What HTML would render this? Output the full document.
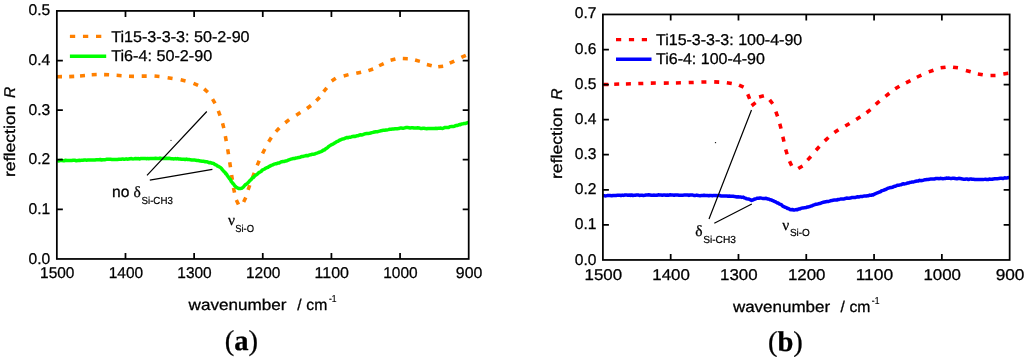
<!DOCTYPE html>
<html lang="en"><head><meta charset="utf-8"><title>Reflection spectra</title>
<style>
html,body{margin:0;padding:0;background:#fff;}
body{width:1024px;height:357px;overflow:hidden;}
svg{display:block;}
text{font-family:"Liberation Sans", Arial, Helvetica, sans-serif;fill:#000;text-rendering:geometricPrecision;stroke:#000;stroke-width:0.28px;}
.t{font-size:15.6px;}
.s{font-size:10.2px;stroke-width:0.2px;}
.g{font-family:"Liberation Serif", "Times New Roman", Times, serif;font-size:15.5px;}
.cap{font-family:"Liberation Serif", "Times New Roman", Times, serif;font-weight:bold;font-size:28.6px;}
.ax{stroke:#000;stroke-width:1.75;fill:none;}
.an{stroke:#000;stroke-width:1.2;fill:none;}
</style></head><body>
<svg width="1024" height="357" viewBox="0 0 1024 357">
<rect width="1024" height="357" fill="#fff"/>
<defs>
<clipPath id="ca"><rect x="56.85" y="10.9" width="411.85" height="248.05"/></clipPath>
<clipPath id="cb"><rect x="602.9" y="14.45" width="406.75" height="245.5"/></clipPath>
</defs>
<g clip-path="url(#ca)">
<path d="M57 76.77L62 76.63M69.2 76.61L74.2 76.39M80.01 75.9L84.99 75.5M91.7 74.8L96.7 74.6M104.1 74.62L109.1 74.78M116.61 75.34L121.59 75.66M129 76.24L134 76.36M141.7 76.1L146.7 76.1M154.51 76.1L159.49 76.5M167.63 77.81L172.57 78.59M180.67 79.82L185.53 80.98M193.52 83.28L198.08 85.32M204.18 88.89L207.82 92.31M212.54 99.04L215.06 103.36M218.3 110.87L220.1 115.53M222.57 123.28L223.83 128.12M225.34 136.14L226.26 141.06M227.69 149.23L228.51 154.17M229.72 162.23L230.48 167.17M231.62 174.93L232.38 179.87M233.47 187.76L234.53 192.64M236.34 200.03L238.46 204.57M243.63 202.06L245.77 197.54M248.06 189.96L249.74 185.24M252.51 177.64L254.29 172.96M257.21 165.4L259.19 160.8M262.58 153.53L264.82 149.07M268.64 141.7L271.36 137.5M275.89 131.63L279.31 127.97M285.22 122.72L289.18 119.68M296.21 115.26L300.39 112.54M307.01 108.51L310.99 105.49M316.29 100.82L319.71 97.18M323.63 91.74L326.77 87.86M331.65 81.03L335.75 78.17M343.69 75.96L348.51 74.64M356.26 73.34L361.14 72.26M368.45 70.64L373.15 68.96M379.12 65.74L383.68 63.66M390.58 60.31L395.42 59.09M402.8 58.6L407.8 58.8M415.09 60.05L419.91 61.35M426.87 64.59L431.73 65.81M438.22 66.83L443.18 66.17M449.71 63.21L454.29 61.19M461.34 57.47L465.86 55.33" fill="none" stroke="#ff8000" stroke-width="3.55"/>
<path d="M56.9 160.7L57.6 160.6L58.6 160.9L59.4 160.4L60.5 160.4L61.6 160.3L62.8 160.7L64.2 160.7L65.6 160.3L67.0 160.4L68.6 160.4L70.0 160.5L71.7 160.5L73.1 160.3L74.8 160.3L76.3 160.7L77.9 160.6L79.3 160.2L80.6 160.4L81.7 160.2L82.9 160.2L84.2 160.0L85.6 160.1L86.7 160.2L88.1 159.9L89.4 159.9L90.7 160.0L92.1 160.0L93.6 160.1L94.9 160.0L96.3 159.8L97.6 159.7L98.9 159.7L100.2 159.5L101.5 160.0L102.9 159.8L104.1 159.8L105.2 159.7L106.4 159.3L107.6 159.3L108.8 159.3L110.5 159.3L111.9 159.5L113.2 159.5L114.8 159.6L116.1 159.4L117.5 159.5L118.8 159.3L120.0 159.3L121.2 159.2L122.6 158.9L123.9 159.2L125.0 159.2L126.2 158.8L127.5 159.2L128.7 158.9L129.9 158.7L131.5 158.6L132.7 158.9L134.1 158.8L135.7 158.6L137.0 158.8L138.5 158.6L139.8 159.0L141.1 158.4L142.7 158.4L144.0 158.6L145.2 158.4L146.6 158.7L147.6 158.4L148.8 158.7L149.9 158.6L151.6 158.6L153.0 158.6L154.2 158.5L155.6 158.3L156.7 158.6L158.0 158.6L159.0 158.6L160.1 158.1L161.5 158.5L162.6 158.4L163.9 158.2L165.0 158.6L166.5 158.2L167.6 158.6L168.9 158.3L170.1 158.5L171.4 158.7L172.6 158.7L174.0 158.9L175.3 158.6L176.5 158.9L177.6 158.6L178.9 159.0L180.2 159.0L181.5 159.3L182.7 159.3L183.9 159.2L185.3 159.5L186.4 159.1L187.7 159.5L189.1 159.4L190.4 159.8L191.7 160.0L193.1 160.1L194.6 160.1L195.7 160.2L197.1 160.4L198.2 160.4L199.3 160.8L200.5 161.1L202.1 161.3L203.3 161.3L204.5 161.5L205.5 161.8L206.8 161.8L207.9 162.1L209.2 162.8L210.5 162.6L211.8 163.2L213.0 163.3L214.0 163.7L215.0 164.6L216.3 164.9L217.3 165.9L218.4 166.4L219.5 167.0L220.4 167.5L221.3 168.3L222.2 169.6L223.1 170.5L223.9 171.5L225.0 172.3L225.6 173.6L226.6 174.1L227.1 175.2L227.9 176.4L228.7 177.5L229.3 178.4L230.1 179.2L230.8 180.4L231.4 181.6L232.3 182.7L233.0 183.6L233.8 184.3L234.4 185.3L235.0 186.0L236.3 187.3L237.5 187.8L238.3 188.4L239.5 188.5L240.4 188.6L241.4 188.4L242.4 187.8L243.0 187.4L243.7 186.6L244.6 185.5L245.8 184.4L246.6 183.9L247.4 183.3L248.3 182.4L249.2 181.4L250.1 180.3L251.2 179.5L252.2 178.1L253.1 177.7L254.2 176.5L255.2 175.5L256.2 175.0L257.2 174.2L258.2 173.3L259.2 172.3L260.4 171.8L261.2 171.4L262.2 170.1L263.5 169.5L264.6 169.0L265.6 168.3L267.0 167.6L268.0 167.3L269.2 166.4L270.3 166.0L271.4 165.3L272.7 164.9L274.0 164.2L275.3 163.8L276.6 163.7L277.9 163.1L279.2 163.0L280.6 162.2L281.9 161.7L283.1 161.5L284.4 161.5L285.7 160.9L287.0 160.7L288.2 160.1L289.6 159.6L290.9 159.2L292.2 158.8L293.6 158.6L294.9 158.4L296.2 157.9L297.5 157.8L298.9 157.4L300.1 157.3L301.4 156.6L302.7 156.6L304.0 156.2L305.3 155.8L306.6 155.6L307.8 155.8L309.3 154.9L310.6 154.8L311.8 154.3L313.3 154.3L314.6 154.1L315.8 153.4L317.0 153.1L318.5 152.5L319.6 152.1L321.0 151.6L322.1 151.1L323.3 150.0L324.4 150.0L325.5 148.9L326.5 148.4L327.6 147.6L328.7 146.5L329.6 145.9L330.8 145.1L331.9 144.5L332.8 144.2L334.0 143.4L335.1 142.8L336.1 142.1L337.2 141.4L338.2 141.2L339.3 140.3L340.4 140.0L341.6 139.4L342.8 138.9L344.0 138.8L345.3 138.1L347.0 137.5L348.1 137.8L349.1 137.3L350.2 137.3L351.5 136.9L352.7 136.4L354.0 136.2L355.3 136.4L356.7 135.8L358.0 135.8L359.3 135.1L360.4 134.8L361.5 135.1L362.9 134.6L364.1 134.1L365.4 133.7L366.7 133.5L368.1 133.6L369.5 133.3L370.6 133.0L371.9 132.6L373.4 132.3L374.5 132.0L375.8 131.7L377.2 131.8L378.5 131.4L379.6 131.1L381.0 130.7L382.2 130.6L383.4 130.2L384.7 130.3L385.9 130.1L387.2 129.9L388.4 129.6L389.8 129.2L391.1 129.2L392.4 129.0L393.5 129.1L395.0 128.8L396.1 128.7L397.4 128.7L398.7 128.6L400.1 128.1L401.3 128.0L402.6 128.2L403.8 128.2L405.0 127.8L406.4 127.6L407.6 127.6L408.9 127.7L410.2 127.9L411.4 127.8L412.7 127.7L413.9 127.9L415.3 127.9L416.4 127.9L417.8 127.8L419.0 127.9L420.4 128.4L421.7 128.4L423.0 128.2L424.1 128.3L425.4 128.6L426.8 128.7L428.0 128.4L429.3 128.6L430.5 128.5L431.9 128.4L433.3 128.5L434.5 128.6L435.9 128.3L437.1 128.4L438.3 128.2L439.7 128.3L440.9 128.1L442.0 128.4L443.3 128.2L444.7 127.6L446.0 127.4L447.3 127.6L448.6 127.4L449.8 126.7L450.9 126.6L452.2 126.4L453.2 126.4L454.5 126.2L455.8 125.6L456.9 125.6L458.2 125.1L459.4 124.5L460.6 124.7L461.7 123.9L463.0 123.8L464.2 123.6L465.7 123.4L466.9 122.9L467.8 122.6L468.6 122.7" fill="none" stroke="#00ff00" stroke-width="3.5" stroke-linejoin="round"/>
</g>
<path class="ax" d="M125.49 258.95v-6M125.49 10.9v6M194.13 258.95v-6M194.13 10.9v6M262.77 258.95v-6M262.77 10.9v6M331.42 258.95v-6M331.42 10.9v6M400.06 258.95v-6M400.06 10.9v6M56.85 209.34h6M468.7 209.34h-6M56.85 159.73h6M468.7 159.73h-6M56.85 110.12h6M468.7 110.12h-6M56.85 60.51h6M468.7 60.51h-6"/>
<rect class="ax" x="56.85" y="10.9" width="411.85" height="248.05"/>
<text class="t" x="57.25" y="278.4" text-anchor="middle" textLength="34.4" lengthAdjust="spacingAndGlyphs">1500</text>
<text class="t" x="125.89" y="278.4" text-anchor="middle" textLength="34.4" lengthAdjust="spacingAndGlyphs">1400</text>
<text class="t" x="194.53" y="278.4" text-anchor="middle" textLength="34.4" lengthAdjust="spacingAndGlyphs">1300</text>
<text class="t" x="263.17" y="278.4" text-anchor="middle" textLength="34.4" lengthAdjust="spacingAndGlyphs">1200</text>
<text class="t" x="331.82" y="278.4" text-anchor="middle" textLength="34.4" lengthAdjust="spacingAndGlyphs">1100</text>
<text class="t" x="400.46" y="278.4" text-anchor="middle" textLength="34.4" lengthAdjust="spacingAndGlyphs">1000</text>
<text class="t" x="469.1" y="278.4" text-anchor="middle" textLength="26.46" lengthAdjust="spacingAndGlyphs">900</text>
<text class="t" x="50.3" y="263.65" text-anchor="end">0.0</text>
<text class="t" x="50.3" y="213.97" text-anchor="end">0.1</text>
<text class="t" x="50.3" y="164.29" text-anchor="end">0.2</text>
<text class="t" x="50.3" y="114.61" text-anchor="end">0.3</text>
<text class="t" x="50.3" y="64.93" text-anchor="end">0.4</text>
<text class="t" x="50.3" y="15.25" text-anchor="end">0.5</text>
<path d="M69.9 36.3H102" fill="none" stroke="#ff8000" stroke-width="3.3" stroke-dasharray="5.3 7.75"/>
<path d="M69.9 56.2H106.2" fill="none" stroke="#00ff00" stroke-width="3.4"/>
<text class="t" x="111.2" y="41.5" textLength="138.4" lengthAdjust="spacingAndGlyphs">Ti15-3-3-3: 50-2-90</text>
<text class="t" x="111.2" y="61.2" textLength="101" lengthAdjust="spacingAndGlyphs">Ti6-4: 50-2-90</text>
<path class="an" d="M147 175.4L206.8 111.5M149.8 180.2L212.4 169.4"/>
<rect x="170.3" y="139.9" width="1.4" height="0.9" fill="#444"/>
<text class="t" x="112.1" y="196.6">no</text>
<text class="g" x="133.6" y="196.8">δ</text>
<text class="s" x="141.5" y="203.6" textLength="31.3" lengthAdjust="spacingAndGlyphs">Si-CH3</text>
<text class="g" x="228" y="225.4">ν</text>
<text class="s" x="235.2" y="231.7" textLength="18.8" lengthAdjust="spacingAndGlyphs">Si-O</text>
<text class="t" x="188.6" y="309.8" textLength="97.8" lengthAdjust="spacingAndGlyphs">wavenumber</text>
<text class="t" x="297.3" y="309.8">/</text>
<text class="t" x="306.3" y="309.8" textLength="21" lengthAdjust="spacingAndGlyphs">cm</text>
<text class="s" x="328.9" y="301.6" textLength="7.6" lengthAdjust="spacingAndGlyphs">-1</text>
<text class="t" transform="translate(15 177) rotate(-90)"><tspan textLength="71.5" lengthAdjust="spacingAndGlyphs">reflection</tspan><tspan dx="7.5" font-style="italic">R</tspan></text>
<text class="cap" x="241.4" y="350.2" text-anchor="middle"><tspan font-weight="normal">(</tspan>a<tspan font-weight="normal">)</tspan></text>
<g clip-path="url(#cb)">
<path d="M603.4 84.59L608.4 84.41M614.2 84.17L619.2 84.03M625.9 83.96L630.9 83.84M638.3 83.58L643.3 83.42M650.8 83.14L655.8 83.06M663.8 83.12L668.8 83.08M675.9 82.96L680.9 82.84M688.7 82.59L693.7 82.41M701.4 82.05L706.4 81.95M714.2 81.88L719.2 82.12M726.83 82.79L731.77 83.61M739.03 85.04L743.57 87.16M747.76 94.28L749.64 98.92M751.63 105.74L755.57 102.66M759.09 97.05L763.91 95.75M769.66 99.83L772.74 103.77M775.84 111.65L777.56 116.35M779.76 123.78L781.04 128.62M782.83 136.77L783.97 141.63M785.69 149.4L787.11 154.2M789.54 161.13L791.66 165.67M798.23 168.55L802.57 166.05M807.51 160.14L810.89 156.46M816.02 150.25L819.38 146.55M824.76 140.9L828.44 137.5M834.35 132.53L838.45 129.67M845.25 125.98L849.55 123.42M856.19 119.45L860.41 116.75M866.54 112.75L870.46 109.65M875.71 104.44L879.49 101.16M885.43 96.33L889.37 93.27M895.18 88.83L899.42 86.17M905.98 82.85L910.42 80.55M916.83 77.25L921.37 75.15M928.75 71.95L933.45 70.25M940.63 67.86L945.57 67.14M953.03 67.15L957.97 67.85M965.89 70.43L970.71 71.77M977.84 73.96L982.76 74.84M990.5 75.57L995.5 75.43M1003.33 74.1L1008.27 73.3" fill="none" stroke="#ff0000" stroke-width="3.55"/>
<path d="M603.1 195.6L603.9 195.6L604.8 195.8L605.9 195.9L607.2 195.6L608.7 195.4L610.1 195.6L611.6 195.8L613.1 195.5L614.6 195.6L615.9 195.6L617.2 195.3L618.5 195.3L619.9 195.2L620.9 195.6L622.2 195.1L623.6 195.4L624.9 195.0L626.3 194.9L627.9 195.3L629.5 195.1L630.6 195.4L631.6 194.9L632.8 195.5L634.1 195.3L635.4 195.3L636.6 194.9L638.0 194.9L639.4 195.4L640.8 195.3L642.2 195.2L643.6 195.4L644.7 195.3L646.0 195.0L647.5 195.1L648.7 194.8L649.9 195.0L651.4 195.3L652.8 195.2L654.3 195.1L655.4 195.3L656.8 195.3L658.2 194.8L659.7 195.0L660.8 194.9L662.1 195.2L663.6 195.0L664.8 195.0L666.0 195.2L667.3 195.0L668.7 195.3L669.9 194.7L671.3 195.0L672.5 194.9L674.0 195.3L675.2 195.0L676.3 195.0L677.7 195.1L679.0 195.3L680.2 195.3L681.4 195.3L682.7 195.3L683.7 195.1L684.9 195.0L686.4 195.1L687.6 195.0L688.9 195.4L690.2 195.0L691.7 195.0L692.8 195.1L694.3 195.5L695.5 195.4L696.8 195.1L697.8 195.4L699.0 195.6L699.9 195.7L701.5 195.5L702.8 195.5L704.1 195.2L705.3 195.4L706.3 195.4L707.5 195.6L708.7 195.8L709.7 195.5L711.1 195.6L712.4 195.7L713.5 195.4L714.7 195.5L715.9 195.5L717.1 195.7L718.3 195.4L719.6 195.5L720.8 195.9L722.1 196.1L723.3 195.9L724.5 196.1L725.8 196.0L727.0 196.0L728.1 196.2L729.3 196.0L730.5 196.2L731.9 196.2L733.3 196.3L734.7 196.6L735.8 196.7L737.1 197.0L738.2 196.8L739.1 196.9L740.9 197.1L741.9 197.4L743.2 197.1L744.2 197.8L745.4 198.2L746.7 198.8L748.0 198.9L749.4 199.3L750.7 199.9L751.6 200.4L752.5 200.1L753.6 199.5L755.0 199.0L756.2 198.6L757.3 198.2L758.7 198.3L760.0 198.0L761.1 198.1L762.5 198.4L763.8 198.4L764.8 198.5L766.1 198.3L767.4 198.9L768.6 198.9L769.7 199.7L770.9 199.7L772.2 200.4L773.4 200.9L774.5 201.5L775.6 201.8L776.8 202.7L778.0 203.0L779.2 203.9L780.4 204.3L781.6 204.9L782.7 206.1L783.8 206.6L785.0 207.2L786.4 207.6L787.6 208.5L788.7 208.6L790.0 209.5L791.3 209.8L792.2 209.5L793.6 210.0L794.8 209.9L796.0 209.6L797.3 209.8L798.3 209.1L799.9 208.9L800.9 208.4L802.0 208.1L803.4 207.9L804.5 207.7L806.0 207.6L807.1 207.1L808.5 206.9L809.9 206.5L811.1 206.0L812.2 205.7L813.4 205.2L814.8 204.7L816.0 204.2L817.1 204.2L818.4 203.8L819.6 203.6L820.9 203.1L822.0 202.6L823.3 202.3L824.6 202.0L825.8 201.7L827.0 201.5L828.2 201.6L829.4 201.2L830.5 200.8L831.8 200.6L833.0 200.3L834.3 200.1L835.6 199.9L836.8 200.0L838.1 199.5L839.3 199.5L840.5 199.0L841.7 199.1L843.0 199.0L844.1 198.9L845.3 198.5L846.6 198.1L847.8 198.3L849.1 198.2L850.3 198.1L851.6 197.6L852.8 197.6L853.9 197.5L855.0 197.6L856.3 197.1L857.5 196.8L858.7 197.1L860.2 196.5L861.3 196.6L862.7 196.5L863.9 196.0L865.3 196.0L866.3 196.1L867.5 195.8L868.6 195.7L869.9 195.1L871.0 195.3L872.1 194.8L873.1 194.9L874.5 194.1L875.6 193.6L876.7 193.2L878.0 192.7L879.4 191.9L880.6 191.7L881.8 190.7L883.2 190.4L884.5 189.8L885.7 189.5L887.1 188.7L888.3 188.2L889.5 187.8L890.9 187.5L891.9 187.4L893.1 187.0L894.4 186.2L895.4 186.3L896.5 185.7L897.7 185.2L898.7 185.2L900.1 184.9L901.1 184.7L902.2 184.1L903.4 183.7L904.7 183.9L906.1 183.6L907.3 183.1L908.7 183.0L909.9 182.4L911.0 182.2L912.3 181.9L913.6 182.0L914.8 181.5L915.8 181.3L917.2 181.0L918.4 181.0L919.6 180.3L920.8 180.7L922.0 180.4L923.4 180.2L924.6 179.8L925.8 179.7L927.0 179.4L928.1 179.4L929.5 179.2L930.6 179.1L931.8 179.1L933.1 178.9L934.4 179.0L935.5 178.6L936.7 178.5L938.0 178.6L939.2 178.7L940.4 178.3L941.8 178.6L942.9 178.7L944.0 178.6L945.4 178.4L946.4 178.0L947.7 178.2L949.0 178.1L950.2 178.4L951.4 178.4L952.6 178.3L953.9 178.2L955.1 178.6L956.5 178.7L957.6 178.7L958.8 178.3L960.1 178.4L961.2 178.7L962.4 179.1L963.8 179.2L965.0 179.2L966.2 179.0L967.4 179.1L968.5 179.5L969.8 179.1L971.0 179.0L972.2 179.3L973.5 179.2L974.8 179.4L976.0 179.5L977.2 179.5L978.5 179.5L979.7 179.5L980.8 179.5L982.1 179.6L983.2 179.6L984.3 179.4L985.5 179.2L986.9 179.6L988.2 179.5L989.3 179.1L990.8 179.2L992.0 179.3L993.3 179.0L994.8 178.8L996.2 178.8L997.5 178.7L998.8 178.6L1000.1 178.3L1001.5 178.2L1003.2 178.5L1004.7 177.8L1006.3 178.1L1007.7 177.8L1008.9 177.6L1009.6 177.4" fill="none" stroke="#0000ff" stroke-width="3.5" stroke-linejoin="round"/>
</g>
<path class="ax" d="M670.69 259.95v-6M670.69 14.45v6M738.48 259.95v-6M738.48 14.45v6M806.27 259.95v-6M806.27 14.45v6M874.07 259.95v-6M874.07 14.45v6M941.86 259.95v-6M941.86 14.45v6M602.9 224.88h6M1009.65 224.88h-6M602.9 189.81h6M1009.65 189.81h-6M602.9 154.74h6M1009.65 154.74h-6M602.9 119.66h6M1009.65 119.66h-6M602.9 84.59h6M1009.65 84.59h-6M602.9 49.52h6M1009.65 49.52h-6"/>
<rect class="ax" x="602.9" y="14.45" width="406.75" height="245.5"/>
<text class="t" x="603.3" y="280.3" text-anchor="middle" textLength="37.5" lengthAdjust="spacingAndGlyphs">1500</text>
<text class="t" x="671.09" y="280.3" text-anchor="middle" textLength="37.5" lengthAdjust="spacingAndGlyphs">1400</text>
<text class="t" x="738.88" y="280.3" text-anchor="middle" textLength="37.5" lengthAdjust="spacingAndGlyphs">1300</text>
<text class="t" x="806.67" y="280.3" text-anchor="middle" textLength="37.5" lengthAdjust="spacingAndGlyphs">1200</text>
<text class="t" x="874.47" y="280.3" text-anchor="middle" textLength="37.5" lengthAdjust="spacingAndGlyphs">1100</text>
<text class="t" x="942.26" y="280.3" text-anchor="middle" textLength="37.5" lengthAdjust="spacingAndGlyphs">1000</text>
<text class="t" x="1010.05" y="280.3" text-anchor="middle" textLength="28.8" lengthAdjust="spacingAndGlyphs">900</text>
<text class="t" x="596.4" y="264.65" text-anchor="end">0.0</text>
<text class="t" x="596.4" y="229.48" text-anchor="end">0.1</text>
<text class="t" x="596.4" y="194.31" text-anchor="end">0.2</text>
<text class="t" x="596.4" y="159.14" text-anchor="end">0.3</text>
<text class="t" x="596.4" y="123.97" text-anchor="end">0.4</text>
<text class="t" x="596.4" y="88.8" text-anchor="end">0.5</text>
<text class="t" x="596.4" y="53.63" text-anchor="end">0.6</text>
<text class="t" x="596.4" y="18.46" text-anchor="end">0.7</text>
<path d="M616 39.6H648" fill="none" stroke="#ff0000" stroke-width="3.3" stroke-dasharray="5.2 7.7"/>
<path d="M616 59.2H651.5" fill="none" stroke="#0000ff" stroke-width="3.4"/>
<text class="t" x="656" y="44.5" textLength="146.2" lengthAdjust="spacingAndGlyphs">Ti15-3-3-3: 100-4-90</text>
<text class="t" x="656" y="64.1" textLength="108.8" lengthAdjust="spacingAndGlyphs">Ti6-4: 100-4-90</text>
<path class="an" d="M709 219L751.5 110M714.3 223.2L751.8 204"/>
<rect x="714.9" y="142" width="1.2" height="1.2" fill="#222"/>
<text class="g" x="695.2" y="236.1">δ</text>
<text class="s" x="703.2" y="242.8" textLength="32.8" lengthAdjust="spacingAndGlyphs">Si-CH3</text>
<text class="g" x="782.3" y="230">ν</text>
<text class="s" x="789.9" y="236.2" textLength="20" lengthAdjust="spacingAndGlyphs">Si-O</text>
<text class="t" x="732.9" y="312.3" textLength="97.3" lengthAdjust="spacingAndGlyphs">wavenumber</text>
<text class="t" x="840.4" y="312.3">/</text>
<text class="t" x="849.4" y="312.3" textLength="21" lengthAdjust="spacingAndGlyphs">cm</text>
<text class="s" x="871.8" y="304" textLength="7.6" lengthAdjust="spacingAndGlyphs">-1</text>
<text class="t" transform="translate(562.3 179) rotate(-90)"><tspan textLength="71.5" lengthAdjust="spacingAndGlyphs">reflection</tspan><tspan dx="7.7" font-style="italic">R</tspan></text>
<text class="cap" x="785.4" y="350.6" text-anchor="middle"><tspan font-weight="normal">(</tspan>b<tspan font-weight="normal">)</tspan></text>
</svg>
</body></html>
